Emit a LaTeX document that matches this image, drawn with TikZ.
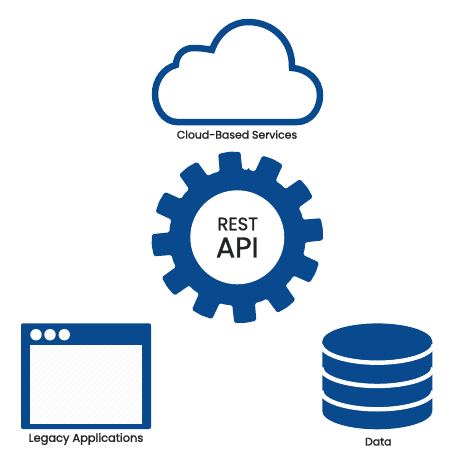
\documentclass[tikz,border=0pt]{standalone}
\usepackage{fontspec}
\setmainfont{Poppins}
\newfontfamily\labfont{Poppins}[FakeBold=1.5]
\newfontfamily\apifont{Poppins}[FakeBold=1.2]
\definecolor{navy}{HTML}{084A8D}
\definecolor{ink}{HTML}{222326}
\definecolor{hatchc}{HTML}{F3F4F7}
\tikzset{
  lab/.style={font=\labfont\fontsize{10.9}{12}\selectfont,text=ink,inner sep=0pt,anchor=center},
  apitext/.style={text=ink,inner sep=0pt,anchor=center},
}
\begin{document}
\begin{tikzpicture}[x=1pt,y=-1pt]
\useasboundingbox (0,0) rectangle (474,474);
\fill[white] (0,0) rectangle (474,474);
% cloud
\draw[navy,line width=6.5pt,fill=white,miter limit=10,line join=miter]
  (177,122) .. controls (164,122) and (155,108) .. (155,94)
  .. controls (155,80) and (164,68) .. (176,65)
  .. controls (176,55) and (184,48) .. (193,48)
  .. controls (201,48) and (207,49) .. (212,50)
  .. controls (218,33) and (232,22) .. (248,22)
  .. controls (274,22) and (293,42) .. (292,68)
  .. controls (308,69) and (320,80) .. (320,95)
  .. controls (320,110) and (310,122) .. (297,122) -- cycle;
\node[lab] (cloudlab) at (237,134.5) {Cloud-Based Services};
% gear
\begin{scope}[shift={(237.3,237.3)}]
\fill[navy,rounded corners=1.6pt]
  (80.4:68.5pt)
  \foreach \i [evaluate=\i as \a using 95.4+30*\i] in {0,...,11}{
    -- (\a-9.6:68pt) -- (\a-7.5:85.5pt) -- (\a:86pt) -- (\a+7.5:85.5pt) -- (\a+9.6:68pt) -- (\a+15:68.5pt)
  } -- cycle;
\fill[white] (0,0) circle[radius=47pt];
\end{scope}
\node[apitext,font=\apifont\fontsize{18}{20}\selectfont] (rest) at (237.7,224) {REST};
\node[apitext,font=\apifont\fontsize{28.5}{30}\selectfont] (api) at (237.3,247.5) {API};
% window
\fill[navy,rounded corners=2pt] (21,323.3) rectangle (151,429);
\fill[white] (30,345) rectangle (142,423.7);
\begin{scope}
\clip (30,345) rectangle (142,423.7);
\foreach \k in {0,6,...,204}{
  \draw[hatchc,line width=0.7pt] (30+\k-80,423.7) -- (30+\k,345);
}
\end{scope}
\foreach \cx in {36,50,64.3}{
  \fill[white] (\cx,334.7) circle[radius=5.7pt];
}
\node[lab,font=\labfont\fontsize{11.4}{12}\selectfont] (legacylab) at (86,439) {Legacy Applications};
% database
\fill[navy] (322.3,341.7) -- (322.3,411)
  .. controls (322.3,421.1) and (346.9,429.3) .. (377.3,429.3)
  .. controls (407.7,429.3) and (432.3,421.1) .. (432.3,411) -- (432.3,341.7) -- cycle;
\foreach \cy in {344.4,367.7,391}{
  \draw[white,line width=4.4pt] (321.3,\cy)
    .. controls (321.3,\cy+10.1) and (346.9,\cy+18.3) .. (377.3,\cy+18.3)
    .. controls (407.7,\cy+18.3) and (433.3,\cy+10.1) .. (433.3,\cy);
}
\fill[navy] (377.3,341.7) ellipse[x radius=55pt,y radius=18.3pt];
\node[lab] (datalab) at (378.3,441.7) {Data};
\end{tikzpicture}
\end{document}
